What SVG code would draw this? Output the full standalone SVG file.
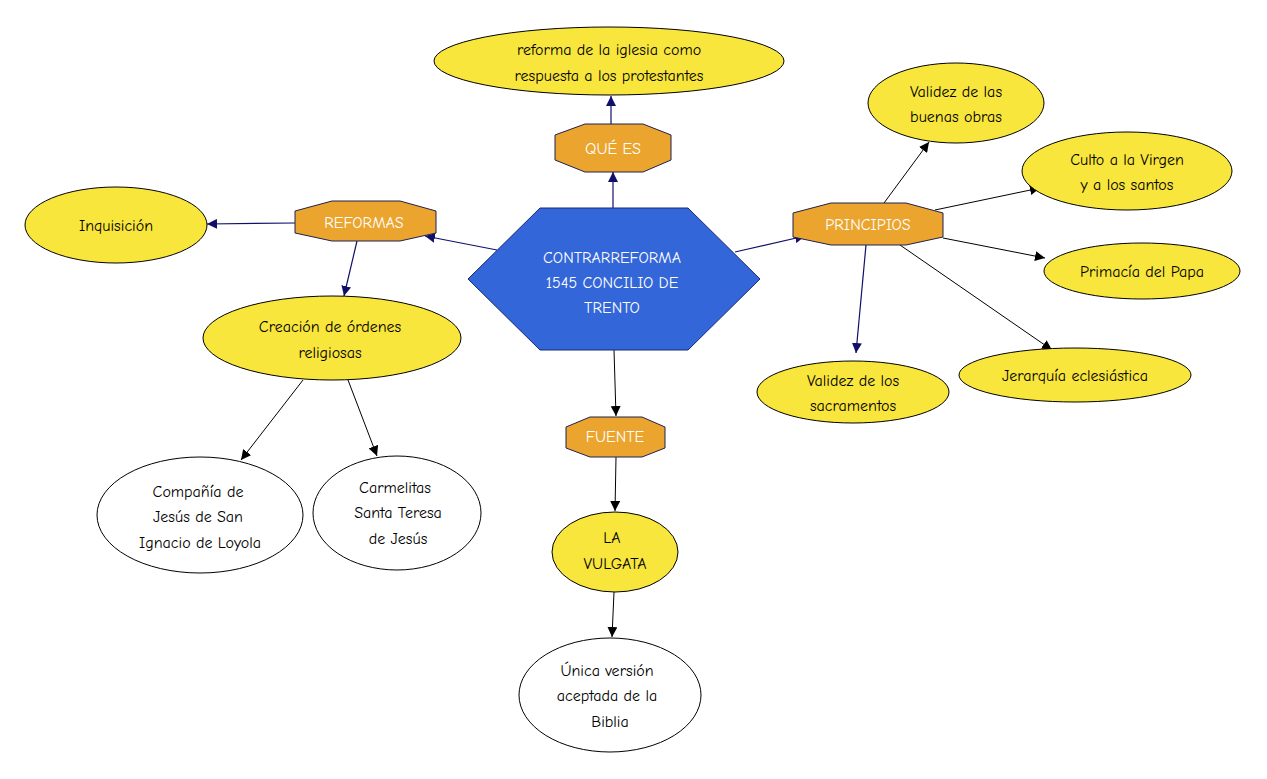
<svg xmlns="http://www.w3.org/2000/svg" width="1267" height="779" viewBox="0 0 1267 779">
<style>
text{font-family:"Comic Sans MS","Comic Neue","DejaVu Sans",sans-serif;font-size:16px;text-anchor:middle}
.y{fill:#f8e63c;stroke:#000;stroke-width:1}
.w{fill:#fff;stroke:#000;stroke-width:1}
.o{fill:#eba42d;stroke:#202050;stroke-width:1}
.h{fill:#3366d8;stroke:#1a2a70;stroke-width:1}
.lt{fill:#fff}
.n{stroke:#10106a;stroke-width:1.2;fill:none;marker-end:url(#an)}
.b{stroke:#000;stroke-width:1;fill:none;marker-end:url(#ab)}
</style>
<defs>
<marker id="an" viewBox="0 0 10 10" refX="10" refY="5" markerWidth="10" markerHeight="10" orient="auto" markerUnits="userSpaceOnUse"><path d="M0,0L10,5L0,10z" fill="#10106a"/></marker>
<marker id="ab" viewBox="0 0 10 10" refX="10" refY="5" markerWidth="10" markerHeight="10" orient="auto" markerUnits="userSpaceOnUse"><path d="M0,0L10,5L0,10z" fill="#000"/></marker>
</defs>
<rect width="1267" height="779" fill="#fff"/>
<g id="connectors">
<line class="n" x1="613" y1="208" x2="613" y2="172"/>
<line class="n" x1="611" y1="124" x2="611" y2="96"/>
<line class="n" x1="497" y1="250" x2="425" y2="236"/>
<line class="n" x1="295" y1="223" x2="207" y2="224"/>
<line class="n" x1="357" y1="241" x2="344" y2="296"/>
<line class="b" x1="303" y1="380" x2="241" y2="460"/>
<line class="b" x1="348" y1="380" x2="377" y2="456"/>
<line class="n" x1="735" y1="252" x2="805" y2="236"/>
<line class="b" x1="884" y1="203" x2="929" y2="142"/>
<line class="b" x1="935" y1="210" x2="1040" y2="188"/>
<line class="b" x1="943" y1="238" x2="1045" y2="258"/>
<line class="b" x1="900" y1="245" x2="1052" y2="350"/>
<line class="n" x1="866" y1="245" x2="856" y2="353"/>
<line class="b" x1="614" y1="350" x2="616" y2="416"/>
<line class="b" x1="616" y1="457" x2="615" y2="511"/>
<line class="b" x1="614" y1="592" x2="612" y2="637"/>
</g>
<g id="hex"><polygon class="h" points="540,208 688,208 760,279 688,350 540,350 468,279"/>
<text class="lt" x="612" y="263">CONTRARREFORMA</text><text class="lt" x="612" y="288">1545 CONCILIO DE</text><text class="lt" x="612" y="313">TRENTO</text></g>
<g id="quees"><polygon class="o" points="585,124 643,124 671,135 671,160 643,172 585,172 555,160 555,135"/><text class="lt" x="613" y="154">QUÉ ES</text></g>
<g id="principios"><polygon class="o" points="831,203 906,203 943,213 943,237 906,245 831,245 793,237 793,213"/><text class="lt" x="868" y="230">PRINCIPIOS</text></g>
<g id="reformas"><polygon class="o" points="332,201 400,201 436,211 436,233 400,241 332,241 295,233 295,211"/><text class="lt" x="364" y="228">REFORMAS</text></g>
<g id="fuente"><polygon class="o" points="590,417 642,417 665,427 665,448 642,457 590,457 566,448 566,427"/><text class="lt" x="615" y="442">FUENTE</text></g>
<g id="reforma"><ellipse class="y" cx="609" cy="61" rx="175" ry="34"/><text x="609" y="55">reforma de la iglesia como</text><text x="609" y="81">respuesta a los protestantes</text></g>
<g id="buenas"><ellipse class="y" cx="956" cy="103" rx="88" ry="40"/><text x="956" y="97">Validez de las</text><text x="956" y="122">buenas obras</text></g>
<g id="culto"><ellipse class="y" cx="1127" cy="171" rx="105" ry="39"/><text x="1127" y="165">Culto a la Virgen</text><text x="1127" y="190">y a los santos</text></g>
<g id="primacia"><ellipse class="y" cx="1142" cy="271" rx="98" ry="28"/><text x="1142" y="277">Primacía del Papa</text></g>
<g id="jerarquia"><ellipse class="y" cx="1075" cy="375" rx="116" ry="27"/><text x="1075" y="381">Jerarquía eclesiástica</text></g>
<g id="sacramentos"><ellipse class="y" cx="853" cy="392" rx="96" ry="31"/><text x="853" y="386">Validez de los</text><text x="853" y="411">sacramentos</text></g>
<g id="inquisicion"><ellipse class="y" cx="116" cy="225" rx="91" ry="38"/><text x="116" y="231">Inquisición</text></g>
<g id="creacion"><ellipse class="y" cx="332" cy="338" rx="129" ry="42"/><text x="330" y="332">Creación de órdenes</text><text x="330" y="358">religiosas</text></g>
<g id="compania"><ellipse class="w" cx="200" cy="515" rx="103" ry="58"/><text x="198" y="497">Compañía de</text><text x="198" y="522">Jesús de San</text><text x="200" y="548">Ignacio de Loyola</text></g>
<g id="carmelitas"><ellipse class="w" cx="397" cy="513" rx="84" ry="57"/><text x="395" y="493">Carmelitas</text><text x="398" y="518">Santa Teresa</text><text x="398" y="544">de Jesús</text></g>
<g id="vulgata"><ellipse class="y" cx="615" cy="552" rx="63" ry="40"/><text x="612" y="543">LA</text><text x="615" y="569">VULGATA</text></g>
<g id="unica"><ellipse class="w" cx="610" cy="695" rx="91" ry="57"/><text x="607" y="676">Única versión</text><text x="607" y="701">aceptada de la</text><text x="610" y="727">Biblia</text></g>
</svg>
